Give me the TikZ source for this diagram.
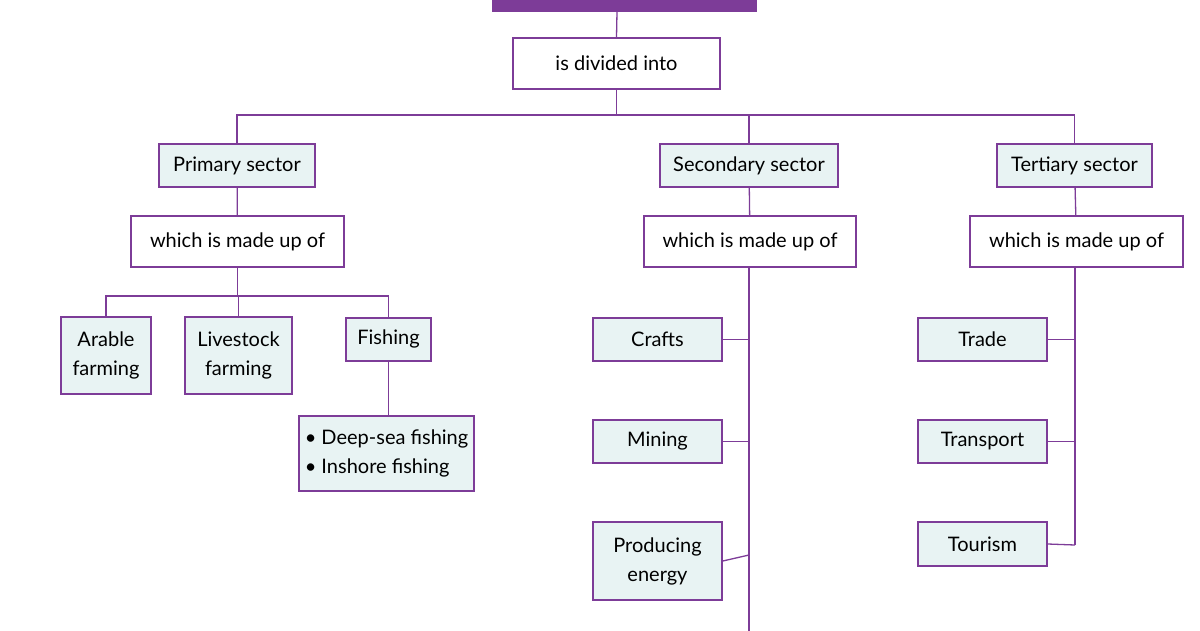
\documentclass[tikz,border=0pt]{standalone}
\usepackage{fontspec}
\setmainfont{Lato}
\begin{document}
\begin{tikzpicture}[x=1pt,y=-1pt,
  pl/.style={draw=purp,line width=1.3pt},
  bx/.style={draw=purp,line width=1.6pt,fill=lightb,align=center,font=\fontsize{20}{29}\selectfont},
  wb/.style={bx,fill=white}]
\definecolor{purp}{HTML}{7D3C98}
\definecolor{lightb}{HTML}{E8F3F3}
\useasboundingbox (0,0) rectangle (1200,630);
\fill[purp] (492,-2) rectangle (757,12);
\coordinate (top) at (617,12);
\newcommand\bx[6]{\node[#6,minimum width=#3-#2,minimum height=#5-#4,inner sep=0pt] (#1) at ({(#2+#3)/2},{(#4+#5)/2}) {};}
\node[wb,minimum width=207,minimum height=51] (div) at (616.5,63.5) {is divided into};
\node[bx,minimum width=156,minimum height=43] (p) at (237,165.5) {Primary sector};
\node[bx,minimum width=178,minimum height=43] (s) at (749,165.5) {Secondary sector};
\node[bx,minimum width=155,minimum height=43] (t) at (1074.5,165.5) {Tertiary sector};
\node[wb,minimum width=213,minimum height=51] (pw) at (237.5,241.5) {which is made up of};
\node[wb,minimum width=212,minimum height=51] (sw) at (750,241.5) {which is made up of};
\node[wb,minimum width=213,minimum height=51] (tw) at (1076.5,241.5) {which is made up of};
\node[bx,minimum width=90,minimum height=77] (ar) at (106,355.5) {Arable\\farming};
\node[bx,minimum width=107,minimum height=77] (li) at (238.5,355.5) {Livestock\\farming};
\node[bx,minimum width=85,minimum height=43,anchor=north] (fi) at (388.5,317) {Fishing};
\node[bx,minimum width=175,minimum height=75,align=left,inner sep=2pt] (ds) at (386.5,453.5) {• Deep-sea fishing\\• Inshore fishing};
\node[bx,minimum width=129,minimum height=43] (cr) at (657.5,339.5) {Crafts};
\node[bx,minimum width=129,minimum height=43] (mi) at (657.5,441.5) {Mining};
\node[bx,minimum width=129,minimum height=78] (pe) at (657.5,561) {Producing\\energy};
\node[bx,minimum width=129,minimum height=43] (tr) at (982.5,339.5) {Trade};
\node[bx,minimum width=129,minimum height=43] (tp) at (982.5,441.5) {Transport};
\node[bx,minimum width=129,minimum height=44] (to) at (982.5,544) {Tourism};
\coordinate (send) at (749,632);
\coordinate (tend) at (1075,545);
% connectors
\draw[pl] (top) -- (div.north);
\draw[pl] (div.south) -- (616.5,115) -| (p.north);
\draw[pl] (div.south) -- (616.5,115) -| (s.north);
\draw[pl] (div.south) -- (616.5,115) -| (t.north);
\draw[pl] (p) -- (pw); \draw[pl] (s) -- (sw); \draw[pl] (t) -- (tw);
\draw[pl] (pw.south) -- (237.5,296) -| (ar.north);
\draw[pl] (pw.south) -- (237.5,296) -| (li.north);
\draw[pl] (pw.south) -- (237.5,296) -| (fi.north);
\draw[pl] (fi.south) -- (fi.south |- ds.north);
\draw[pl] (749,267) -- (send);
\draw[pl] (cr.east) -- (749,339.5);
\draw[pl] (mi.east) -- (749,441.5);
\draw[pl] (pe.east) -- (749,555);
\draw[pl] (1075,267) -- (tend);
\draw[pl] (tr.east) -- (1075,339.5);
\draw[pl] (tp.east) -- (1075,441.5);
\draw[pl] (to.east) -- (tend);
\end{tikzpicture}
\end{document}
